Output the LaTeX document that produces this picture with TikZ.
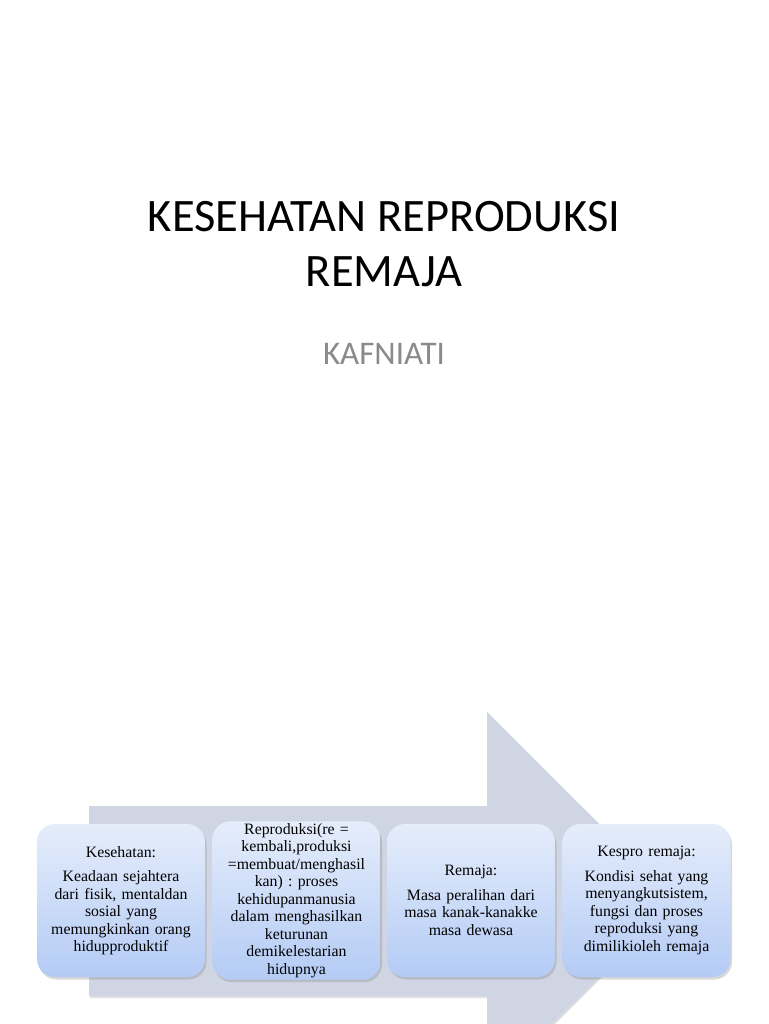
\documentclass[tikz,border=0pt]{standalone}
\usepackage{fontspec}
\setmainfont{Liberation Serif}
\newfontfamily\titlefont{Carlito}
\usetikzlibrary{shadows}
\definecolor{arrowfill}{HTML}{CFD5E2}
\definecolor{boxtop}{HTML}{E5EDFB}
\definecolor{boxbot}{HTML}{B4CBF5}
\definecolor{subgray}{HTML}{8A8A8A}
\frenchspacing
\begin{document}
\begin{tikzpicture}[x=1pt,y=-1pt,
  card/.style={rounded corners=18pt, minimum width=168pt, minimum height=153pt,
    top color=boxtop, bottom color=boxbot, draw=none,
    drop shadow={shadow xshift=1.5pt, shadow yshift=-2.5pt, opacity=0.3},
    align=center, font=\fontsize{15.8}{17.5}\selectfont\frenchspacing, inner sep=2pt, text width=164pt},
  titletext/.style={font=\titlefont\fontsize{46.5}{54}\selectfont, text=black},
  subtext/.style={font=\titlefont\fontsize{33}{38}\selectfont, text=subgray}
]
\useasboundingbox (0,0) rectangle (768,1024);
\fill[white] (0,0) rectangle (768,1024);
\node[titletext] (t1) at (384,217) {KESEHATAN REPRODUKSI};
\node[titletext] (t2) at (384,272) {REMAJA};
\node[subtext] (sub) at (384,354) {KAFNIATI};
\begin{scope}
\clip (0,0) rectangle (768,1024);
\fill[arrowfill, drop shadow={shadow xshift=1pt, shadow yshift=-2pt, opacity=0.25}]
  (89,806) -- (487,806) -- (487,712) -- (676,900.5) -- (487,1089) -- (487,996) -- (89,996) -- cycle;
\end{scope}
\node[card] (b1) at (121,900.5) {Kesehatan:\\[7pt]Keadaan sejahtera\\dari fisik, mentaldan\\sosial yang\\memungkinkan orang\\hidupproduktif};
\node[card] (b2) at (296.5,900.5) {Reproduksi(re =\\kembali,produksi\\=membuat/menghasil\\kan) : proses\\kehidupanmanusia\\dalam menghasilkan\\keturunan\\demikelestarian\\hidupnya};
\node[card] (b3) at (471,900.5) {Remaja:\\[7pt]Masa peralihan dari\\masa kanak-kanakke\\masa dewasa};
\node[card] (b4) at (646.5,900.5) {Kespro remaja:\\[7pt]Kondisi sehat yang\\menyangkutsistem,\\fungsi dan proses\\reproduksi yang\\dimilikioleh remaja};
\end{tikzpicture}
\end{document}
